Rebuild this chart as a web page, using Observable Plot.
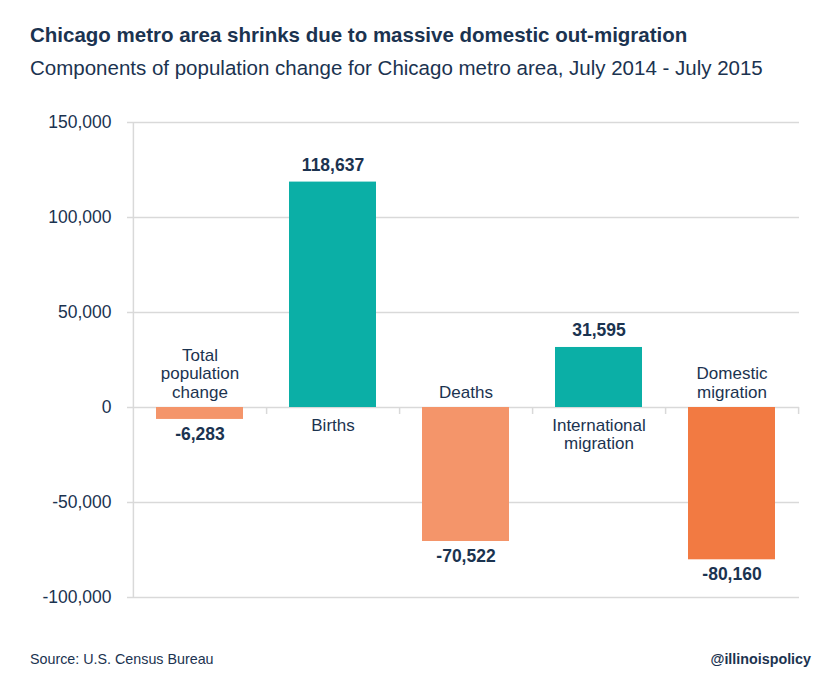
<!DOCTYPE html>
<html>
<head>
<meta charset="utf-8">
<script src="https://cdn.jsdelivr.net/npm/d3@7"></script>
<script src="https://cdn.jsdelivr.net/npm/@observablehq/plot@0.6"></script>
<style>
  html, body { margin: 0; padding: 0; background: #fff; }
  #wrap { position: relative; width: 840px; height: 688px; font-family: "Liberation Sans", Arial, sans-serif; color: #1B3350; }
  .title { position: absolute; left: 30px; top: 25px; font-size: 20.5px; line-height: 20.5px; font-weight: bold; white-space: nowrap; }
  .subtitle { position: absolute; left: 30px; top: 58px; font-size: 20.5px; line-height: 20.5px; white-space: nowrap; }
  #chart { position: absolute; left: 0; top: 100px; }
  .source { position: absolute; left: 30px; top: 652px; font-size: 14.3px; line-height: 14.3px; }
  .handle { position: absolute; right: 29px; top: 652px; font-size: 14.3px; line-height: 14.3px; font-weight: bold; }
</style>
</head>
<body>
<div id="wrap">
  <div class="title">Chicago metro area shrinks due to massive domestic out-migration</div>
  <div class="subtitle">Components of population change for Chicago metro area, July 2014 - July 2015</div>
  <div id="chart"></div>
  <div class="source">Source: U.S. Census Bureau</div>
  <div class="handle">@illinoispolicy</div>
</div>
<script>
// Components of population change, Chicago metro area, July 2014 - July 2015
const categories = ["Total population change", "Births", "Deaths", "International migration", "Domestic migration"];
const categoryLabels = ["Total\npopulation\nchange", "Births", "Deaths", "International\nmigration", "Domestic\nmigration"];
const values = [-6283, 118637, -70522, 31595, -80160];
const yTicks = [-100000, -50000, 0, 50000, 100000, 150000];

const barColors = ["#F4956A", "#0BAFA6", "#F4956A", "#0BAFA6", "#F27A42"];
const ink = "#1B3350";
const gridColor = "#D9D9D9";

const rows = categories.map((c, i) => ({category: c, label: categoryLabels[i], value: values[i]}));
const fmt = d => d3.format(",")(d).replace("\u2212", "-");

const width = 840, height = 530;
const marginLeft = 133, marginRight = 41, marginTop = 22, marginBottom = 33;
const step = (width - marginLeft - marginRight) / categories.length;

const pos = rows.filter(d => d.value >= 0);
const neg = rows.filter(d => d.value < 0);

const chart = Plot.plot({
  width, height, marginLeft, marginRight, marginTop, marginBottom,
  style: {fontFamily: "'Liberation Sans', Arial, sans-serif", fontSize: "17px", color: ink, background: "white"},
  x: {domain: categories, paddingInner: 0.345, paddingOuter: 0.1725, axis: null},
  y: {domain: [-100000, 150000]},
  color: {domain: categories, range: barColors},
  marks: [
    Plot.gridY({ticks: yTicks, stroke: gridColor, strokeOpacity: 1, strokeWidth: 1.5}),
    Plot.axisY({ticks: yTicks, tickSize: 6, tickPadding: 16, tickFormat: fmt, stroke: gridColor, strokeWidth: 1.5, strokeOpacity: 1, fill: ink, fontSize: 17.5, label: null}),
    // vertical axis line at the left edge of the first band
    Plot.ruleX([categories[0]], {x: d => d, y1: -100000, y2: 150000, dx: -step / 2, stroke: gridColor, strokeWidth: 1.5}),
    // small ticks below the zero line at each band boundary
    Plot.ruleX(categories, {x: d => d, y1: 0, y2: 0, insetBottom: -7, dx: step / 2, stroke: gridColor, strokeWidth: 1.5}),
    Plot.barY(rows, {x: "category", y: "value", fill: "category"}),
    // value labels
    Plot.text(pos, {x: "category", y: "value", text: d => fmt(d.value), lineAnchor: "bottom", dy: -11, fontWeight: "bold", fontSize: 17.5, fill: ink}),
    Plot.text(neg, {x: "category", y: "value", text: d => fmt(d.value), lineAnchor: "top", dy: 8, fontWeight: "bold", fontSize: 17.5, fill: ink}),
    // category labels on the opposite side of the zero line
    Plot.text(pos, {x: "category", y: 0, text: "label", lineAnchor: "top", dy: 10, lineHeight: 1.1, fontSize: 17, fill: ink}),
    Plot.text(neg, {x: "category", y: 0, text: "label", lineAnchor: "bottom", dy: -10, lineHeight: 1.08, fontSize: 17, fill: ink})
  ]
});

document.getElementById("chart").append(chart);
</script>
</body>
</html>
